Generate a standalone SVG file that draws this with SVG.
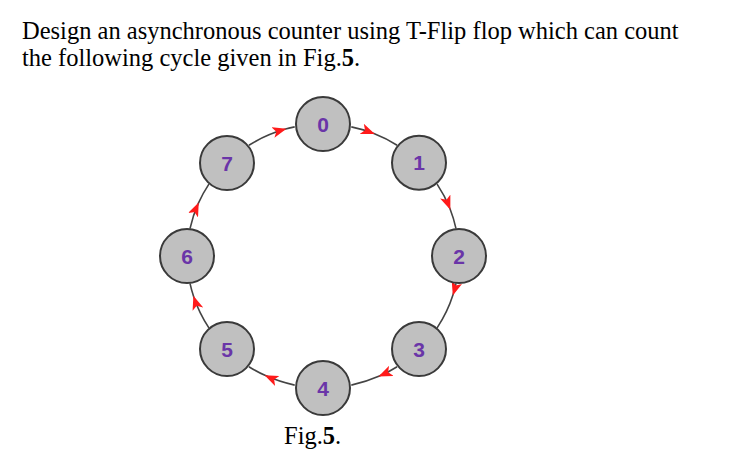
<svg xmlns="http://www.w3.org/2000/svg" width="753" height="472" viewBox="0 0 753 472">
<style>
.t{font-family:"Liberation Serif",serif;font-size:24.5px;fill:#000}
.n circle{fill:#c0c0c0;stroke:#3a3a3a;stroke-width:2}
.n text{font-family:"Liberation Sans",Arial,sans-serif;font-size:21px;font-weight:bold;fill:#6a35a8;text-anchor:middle}
.c path{fill:none;stroke:#444;stroke-width:1.6;marker-mid:url(#a)}
</style>
<defs>
<marker id="a" viewBox="0 0 14 11" refX="13" refY="5.5" markerWidth="14" markerHeight="11" markerUnits="userSpaceOnUse" orient="auto">
<path d="M0,0 L14,5.5 L0,11 L3.5,5.5 Z" fill="#ff1a1a"/>
</marker>
</defs>
<rect width="753" height="472" fill="#fff"/>
<text class="t" x="22" y="39">Design an asynchronous counter using T-Flip flop which can count</text>
<text class="t" x="22" y="66">the following cycle given in Fig.<tspan font-weight="bold">5</tspan>.</text>
<text class="t" x="284" y="444">Fig.<tspan font-weight="bold">5</tspan>.</text>
<g class="c" id="connectors">
<path d="M248.9,145.3 A136 132 0 0 1 285.5,129.1 A136 132 0 0 1 294.7,126.9"/>
<path d="M351.3,126.9 A136 132 0 0 1 373.9,133.6 A136 132 0 0 1 397.1,145.3"/>
<path d="M437.1,184.1 A136 132 0 0 1 450,208.7 A136 132 0 0 1 456,228.6"/>
<path d="M456,283.4 A136 132 0 0 1 453.1,294.6 A136 132 0 0 1 437.1,327.9"/>
<path d="M397.1,366.7 A136 132 0 0 1 379.4,376.1 A136 132 0 0 1 351.3,385.1"/>
<path d="M294.7,385.1 A136 132 0 0 1 265.5,375.6 A136 132 0 0 1 248.9,366.7"/>
<path d="M208.9,327.9 A136 132 0 0 1 193.7,296.8 A136 132 0 0 1 190,283.4"/>
<path d="M190,228.6 A136 132 0 0 1 198.3,203.4 A136 132 0 0 1 208.9,184.1"/>
</g>
<g class="n" id="node0"><circle cx="323" cy="124" r="27"/><text x="323" y="132">0</text></g>
<g class="n" id="node1"><circle cx="419" cy="162.7" r="27"/><text x="419" y="170">1</text></g>
<g class="n" id="node2"><circle cx="459" cy="256" r="27"/><text x="459" y="264">2</text></g>
<g class="n" id="node3"><circle cx="419" cy="349" r="27"/><text x="419" y="357">3</text></g>
<g class="n" id="node4"><circle cx="323" cy="388" r="27"/><text x="323" y="396">4</text></g>
<g class="n" id="node5"><circle cx="227" cy="349" r="27"/><text x="227" y="357">5</text></g>
<g class="n" id="node6"><circle cx="187" cy="256" r="27"/><text x="187" y="264">6</text></g>
<g class="n" id="node7"><circle cx="227" cy="163" r="27"/><text x="227" y="171">7</text></g>
</svg>
